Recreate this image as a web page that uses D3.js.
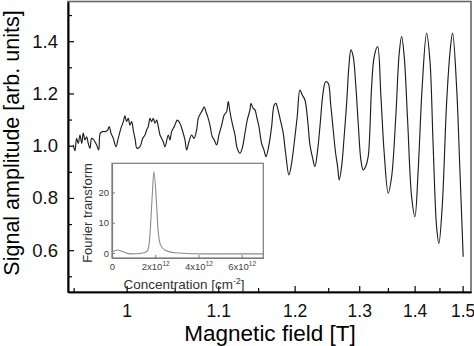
<!DOCTYPE html>
<html><head><meta charset="utf-8">
<script src="https://cdn.jsdelivr.net/npm/d3@7"></script>
<style>body{margin:0;background:#fff}svg{display:block}text{font-family:"Liberation Sans",Arial,sans-serif}</style>
</head><body><svg id="c" width="474" height="346"></svg>
<script>
// Main curve: magnetic field [T] and signal amplitude [arb. units]
const fieldB = [
0.9497,0.9512,0.9527,0.9542,0.9557,0.9573,0.9587,0.9603,0.9618,0.9633,
0.9649,0.9664,0.9679,0.9695,0.9711,0.9730,0.9745,0.9767,0.9792,0.9815,
0.9830,0.9847,0.9869,0.9895,0.9917,0.9944,0.9967,0.9983,1.0000,1.0016,
1.0033,1.0050,1.0066,1.0086,1.0103,1.0134,1.0161,1.0185,1.0202,1.0219,
1.0237,1.0254,1.0271,1.0289,1.0307,1.0324,1.0342,1.0360,1.0377,1.0395,
1.0431,1.0449,1.0467,1.0496,1.0529,1.0558,1.0584,1.0614,1.0633,1.0659,
1.0689,1.0716,1.0746,1.0765,1.0792,1.0815,1.0834,1.0854,1.0874,1.0901,
1.0928,1.0952,1.0980,1.1008,1.1041,1.1072,1.1101,1.1121,1.1142,1.1170,
1.1204,1.1232,1.1266,1.1295,1.1330,1.1359,1.1394,1.1407,1.1436,1.1459,
1.1481,1.1511,1.1546,1.1577,1.1604,1.1644,1.1680,1.1715,1.1739,1.1762,
1.1794,1.1839,1.1873,1.1919,1.1957,1.2004,1.2037,1.2076,1.2110,1.2149,
1.2189,1.2223,1.2263,1.2297,1.2338,1.2373,1.2423,1.2460,1.2500,1.2537,
1.2578,1.2616,1.2647,1.2673,1.2711,1.2748,1.2792,1.2829,1.2862,1.2900,
1.2940,1.2983,1.3028,1.3067,1.3108,1.3152,1.3211,1.3256,1.3316,1.3374,
1.3433,1.3505,1.3567,1.3640,1.3707,1.3752,1.3801,1.3865,1.3942,1.4006,
1.4070,1.4149,1.4237,1.4304,1.4371,1.4441,1.4489,1.4558,1.4651,1.4722,
1.4780,1.4867,1.4940,1.5013];
const amplitude = [
1.003,0.981,1.028,1.009,1.041,1.009,1.048,1.022,1.034,1.009,
0.990,1.028,1.025,1.015,1.003,0.984,1.048,1.054,1.054,1.060,
1.073,1.048,1.028,0.996,1.028,1.067,1.092,1.114,1.092,1.105,
1.079,1.092,1.060,1.022,0.990,0.996,1.028,1.041,1.060,1.073,
1.105,1.092,1.105,1.086,1.098,1.073,1.041,1.028,1.015,0.996,
1.041,1.022,1.054,1.073,1.098,1.086,1.060,1.022,0.984,1.015,
1.041,1.028,1.060,1.105,1.124,1.137,1.149,1.130,1.111,1.079,
1.034,1.022,1.003,1.041,1.079,1.118,1.130,1.169,1.130,1.086,
1.041,0.990,0.971,0.990,1.048,1.098,1.137,1.162,1.143,1.137,
1.111,1.073,1.009,0.984,0.958,1.003,1.073,1.156,1.162,1.143,
1.105,1.048,0.971,0.888,0.933,1.034,1.111,1.213,1.194,1.175,
1.098,1.003,0.952,0.920,0.984,1.073,1.207,1.245,1.239,1.162,
1.060,0.971,0.920,0.869,0.920,1.022,1.162,1.303,1.367,1.341,
1.239,1.086,0.945,0.907,0.920,0.958,1.226,1.341,1.379,1.188,
0.971,0.818,0.881,1.098,1.354,1.418,1.341,1.098,0.805,0.728,
0.907,1.226,1.431,1.328,0.996,0.690,0.626,0.766,1.162,1.354,
1.431,1.226,0.907,0.575];
const xTickValues = [1.0, 1.1, 1.2, 1.3, 1.4, 1.5];
const xTickLabels = ["1", "1.1", "1.2", "1.3", "1.4", "1.5"];
const xMinorTicks = [0.95, 1.05, 1.15, 1.25, 1.35, 1.45];
const yTickValues = [0.6, 0.8, 1.0, 1.2, 1.4];
const yTickLabels = ["0.6", "0.8", "1.0", "1.2", "1.4"];
const yMinorTicks = [0.5, 0.7, 0.9, 1.1, 1.3, 1.5];

// Inset: Fourier transform vs concentration
const concentration = [0, 0.28e12, 0.51e12, 0.89e12, 1.36e12, 1.59e12, 1.70e12, 1.77e12, 1.85e12, 1.94e12, 2.05e12, 2.13e12, 2.25e12, 2.44e12, 2.90e12, 4.44e12, 5.99e12, 7.0e12];
const fourier = [0.4, 1.0, 0.4, -0.3, -0.1, 0.4, 2.1, 7.6, 17.5, 26.8, 17.5, 7.6, 2.6, 1.0, 0.1, -0.3, -0.3, -0.3];
const insetXTicks = [0, 2e12, 4e12, 6e12];
const insetXMantissa = ["0", "2x10", "4x10", "6x10"];
const insetYTicks = [0, 10, 20];

const svg = d3.select("#c");
svg.append("rect").attr("width",474).attr("height",346).attr("fill","#fff");

const L=68, R=471, T=2, B=292;
// x axis is linear in 1/B
const xs = d3.scaleLinear().domain([1/0.945, 1/1.519]).range([L, R]);
const ys = d3.scaleLinear().domain([0.44, 1.55]).range([B, T]);

// frame
svg.append("rect").attr("x",L).attr("y",1.5).attr("width",R-L).attr("height",B-1.5)
  .attr("fill","none").attr("stroke","#666").attr("stroke-width",1.6);

// axes
const gx = svg.append("g").attr("transform",`translate(0,${B})`)
  .call(d3.axisBottom(xs).tickValues(xTickValues.map(b=>1/b))
    .tickFormat((d,i)=>xTickLabels[i]).tickSizeInner(-6).tickSizeOuter(0).tickPadding(13));
const gxm = svg.append("g").attr("transform",`translate(0,${B})`)
  .call(d3.axisBottom(xs).tickValues(xMinorTicks.map(b=>1/b)).tickFormat("").tickSizeInner(-4).tickSizeOuter(0));
const gy = svg.append("g").attr("transform",`translate(${L},0)`)
  .call(d3.axisLeft(ys).tickValues(yTickValues).tickFormat((d,i)=>yTickLabels[i])
    .tickSizeInner(-6).tickSizeOuter(0).tickPadding(10));
const gym = svg.append("g").attr("transform",`translate(${L},0)`)
  .call(d3.axisLeft(ys).tickValues(yMinorTicks).tickFormat("").tickSizeInner(-4).tickSizeOuter(0));
[gx,gxm,gy,gym].forEach(g=>{
  g.selectAll(".domain").attr("stroke","#000").attr("stroke-width",1.6);
  g.selectAll(".tick line").attr("stroke","#000").attr("stroke-width",1.2);
});
gx.selectAll(".tick text").attr("font-size",17.5).attr("fill","#111").attr("font-family","Liberation Sans, Arial, sans-serif");
gy.selectAll(".tick text").attr("font-size",18.5).attr("fill","#111").attr("font-family","Liberation Sans, Arial, sans-serif");

// curve
const pts = fieldB.map((b,i)=>[b, amplitude[i]]);
const line = d3.line().x(d=>xs(1/d[0])).y(d=>ys(d[1])).curve(d3.curveCatmullRom.alpha(0.5));
svg.append("path").datum(pts).attr("d",line).attr("fill","none")
  .attr("stroke","#1e1e1e").attr("stroke-width",1.15).attr("stroke-linejoin","round");

// axis titles
svg.append("text").attr("x",270).attr("y",341).attr("text-anchor","middle")
  .attr("font-size",22.5).attr("fill","#000").text("Magnetic field [T]");
svg.append("text").attr("transform","translate(18.5,143) rotate(-90)").attr("text-anchor","middle")
  .attr("font-size",21.5).attr("fill","#000").text("Signal amplitude [arb. units]");

// inset
const iL=112, iR=263.3, iT=163.3, iB=258;
const ixs = d3.scaleLinear().domain([0, 7e12]).range([iL, iR]);
const iys = d3.scaleLinear().domain([-1.65, 29.6]).range([iB, iT]);
svg.append("rect").attr("x",iL).attr("y",iT).attr("width",iR-iL).attr("height",iB-iT)
  .attr("fill","#fff").attr("stroke","#7a7a7a").attr("stroke-width",1.2);
const igx = svg.append("g").attr("transform",`translate(0,${iB})`)
  .call(d3.axisBottom(ixs).tickValues(insetXTicks).tickFormat("").tickSizeInner(-3).tickSizeOuter(0));
const igy = svg.append("g").attr("transform",`translate(${iL},0)`)
  .call(d3.axisLeft(iys).tickValues(insetYTicks).tickSizeInner(-3).tickSizeOuter(0).tickPadding(3));
[igx,igy].forEach(g=>{
  g.selectAll(".domain").attr("stroke","#7a7a7a").attr("stroke-width",1.2);
  g.selectAll(".tick line").attr("stroke","#7a7a7a");
});
igy.selectAll(".tick text").attr("font-size",9.5).attr("fill","#444").attr("font-family","Liberation Sans, Arial, sans-serif");
// inset x tick labels with superscript exponent
igx.selectAll(".tick").each(function(d,i){
  const t = d3.select(this).append("text").attr("y",12).attr("text-anchor","middle")
    .attr("font-size",9.5).attr("fill","#444").attr("font-family","Liberation Sans, Arial, sans-serif");
  t.append("tspan").text(insetXMantissa[i]);
  if(i>0) t.append("tspan").attr("font-size",6.5).attr("dy",-4).text("12");
});
const ipts = concentration.map((c,i)=>[c, fourier[i]]);
svg.append("path").datum(ipts)
  .attr("d", d3.line().x(d=>ixs(d[0])).y(d=>iys(d[1])).curve(d3.curveMonotoneX))
  .attr("fill","none").attr("stroke","#8a8a8a").attr("stroke-width",1.1);
const cl = svg.append("text").attr("x",184).attr("y",288.5).attr("text-anchor","middle")
  .attr("font-size",13.5).attr("fill","#333");
cl.append("tspan").text("Concentration [cm");
cl.append("tspan").attr("font-size",8.5).attr("dy",-5).text("-2");
cl.append("tspan").attr("dy",5).text("]");
svg.append("text").attr("transform","translate(91.5,213) rotate(-90)").attr("text-anchor","middle")
  .attr("font-size",13).attr("fill","#333").text("Fourier transform");
</script></body></html>
